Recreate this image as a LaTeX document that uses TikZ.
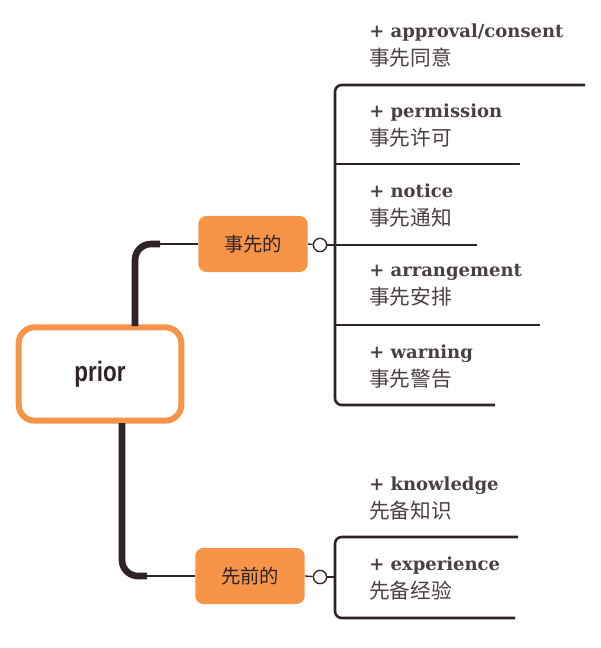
\documentclass[tikz,border=0pt]{standalone}
\usepackage{fontspec}
\setmainfont{DejaVu Serif}
\newfontfamily\cjk{Noto Sans CJK SC}
\newfontfamily\hd{Liberation Sans}
\definecolor{org}{HTML}{F79448}
\definecolor{ink}{HTML}{2E2328}
\definecolor{txt}{HTML}{4A3F44}
\begin{document}
\begin{tikzpicture}[x=0.75pt,y=-0.75pt,
  item/.style={anchor=north west,align=left,inner sep=0,text=txt,font=\bfseries\fontsize{13.5}{21}\selectfont},
  cat/.style={fill=org,rounded corners=6pt,minimum width=82pt,minimum height=42pt,font=\cjk\fontsize{14.5}{14.5}\selectfont,text=ink},
  br/.style={draw=ink,line width=1.9pt,rounded corners=5pt},
  col/.style={draw=ink,line width=1pt,fill=white,circle,inner sep=0,minimum size=10pt}]
\useasboundingbox (0,0) rectangle (600,648);
\node[draw=org,line width=4.5pt,rounded corners=12pt,fill=white,minimum width=122pt,minimum height=70pt,text=ink] (prior) at (100,374) {\scalebox{0.8}[1]{\hd\bfseries\fontsize{21}{21}\selectfont prior}};
\node[cat] (a) at (253,244) {事先的};
\node[cat] (b) at (250,576) {先前的};
\draw[ink,line width=5pt,rounded corners=12pt] (135,326) -- (135,244) -- (160,244);
\draw[ink,line width=2pt] (160,244) -- (a.west);
\draw[ink,line width=5pt,rounded corners=12pt] (122,423) -- (122,576) -- (147,576);
\draw[ink,line width=2pt] (147,576) -- (b.west);
\node[col] (ca) at (320,245) {};
\node[col] (cb) at (320,577) {};
\draw[ink,line width=1pt] (a.east) -- (ca);
\draw[ink,line width=1pt] (b.east) -- (cb);
\draw[br] (585,85) -- (335,85) -- (335,405) -- (495,405);
\draw[br] (335,164) -- (520,164);
\draw[br] (ca) -- (477,245);
\draw[br] (335,325) -- (540,325);
\draw[br] (518,537) -- (335,537) -- (335,618) -- (515,618);
\draw[br] (cb) -- (335,577);
\node[item] (i1) at (369,24) {+ approval/consent\\{\cjk\mdseries\fontsize{15.5}{15.5}\selectfont 事先同意}};
\node[item] (i2) at (369,104) {+ permission\\{\cjk\mdseries\fontsize{15.5}{15.5}\selectfont 事先许可}};
\node[item] (i3) at (369,184) {+ notice\\{\cjk\mdseries\fontsize{15.5}{15.5}\selectfont 事先通知}};
\node[item] (i4) at (369,264) {+ arrangement\\{\cjk\mdseries\fontsize{15.5}{15.5}\selectfont 事先安排}};
\node[item] (i5) at (369,345) {+ warning\\{\cjk\mdseries\fontsize{15.5}{15.5}\selectfont 事先警告}};
\node[item] (i6) at (369,477) {+ knowledge\\{\cjk\mdseries\fontsize{15.5}{15.5}\selectfont 先备知识}};
\node[item] (i7) at (369,557) {+ experience\\{\cjk\mdseries\fontsize{15.5}{15.5}\selectfont 先备经验}};
\end{tikzpicture}
\end{document}
